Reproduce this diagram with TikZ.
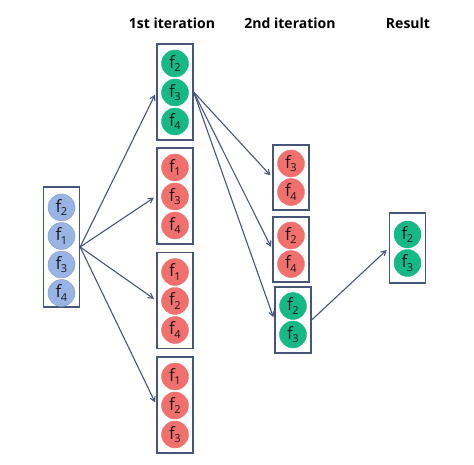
\documentclass[tikz,border=0pt]{standalone}
\usepackage{fontspec}
\setmainfont{Open Sans}
\usepackage{tikz}
\usetikzlibrary{arrows}
\definecolor{framecol}{RGB}{70,86,122}
\definecolor{bluefill}{RGB}{152,180,228}
\definecolor{greenfill}{RGB}{22,184,134}
\definecolor{redfill}{RGB}{241,112,110}
\newcommand{\fsub}[1]{f\kern-0.5pt\raisebox{-3.5pt}{\fontsize{11}{11}\selectfont #1}}
\tikzset{
box/.style={rectangle, draw=framecol, line width=1.3pt, minimum width=36pt, inner sep=0pt},
featb/.style={circle, fill=bluefill, draw=bluefill!85!black, line width=0.4pt, minimum size=27pt, inner sep=0pt, text=black!90, font=\fontsize{17}{17}\selectfont},
featg/.style={featb, fill=greenfill, draw=greenfill},
featr/.style={featb, fill=redfill, draw=redfill},
title/.style={font=\bfseries\fontsize{14}{16}\selectfont},
link/.style={->, >=angle 60, draw=framecol, line width=1.1pt, shorten >=3pt}
}

\begin{document}
\begin{tikzpicture}[x=1pt, y=-1pt]
\useasboundingbox (0,0) rectangle (474,465);

\node[title] (t1) at (172,23) {1st iteration};
\node[title] (t2) at (290,23) {2nd iteration};
\node[title] (t3) at (408,23) {Result};

% start set
\node[box, minimum height=120pt] (s) at (61.5,247) {};
\node[featb] (s1) at (61.5,207.5) {\fsub{2}};
\node[featb] (s2) at (61.5,236) {\fsub{1}};
\node[featb] (s3) at (61.5,264.5) {\fsub{3}};
\node[featb] (s4) at (61.5,293) {\fsub{4}};

% 1st iteration
\node[box, minimum height=96pt] (a) at (175,92) {};
\node[featg] (a1) at (175,63.5) {\fsub{2}};
\node[featg] (a2) at (175,92.5) {\fsub{3}};
\node[featg] (a3) at (175,121.5) {\fsub{4}};

\node[box, minimum height=96pt] (b) at (175,196) {};
\node[featr] (b1) at (175,167.5) {\fsub{1}};
\node[featr] (b2) at (175,196.5) {\fsub{3}};
\node[featr] (b3) at (175,225.5) {\fsub{4}};

\node[box, minimum height=96pt] (c) at (175,300.5) {};
\node[featr] (c1) at (175,272) {\fsub{1}};
\node[featr] (c2) at (175,301) {\fsub{2}};
\node[featr] (c3) at (175,330) {\fsub{4}};

\node[box, minimum height=96pt] (d) at (175,405) {};
\node[featr] (d1) at (175,376.5) {\fsub{1}};
\node[featr] (d2) at (175,405.5) {\fsub{2}};
\node[featr] (d3) at (175,434.5) {\fsub{3}};

% 2nd iteration
\node[box, minimum height=65pt] (e) at (291,177.5) {};
\node[featr] (e1) at (291,163.5) {\fsub{3}};
\node[featr] (e2) at (291,192) {\fsub{4}};

\node[box, minimum height=65pt] (f) at (291,249.5) {};
\node[featr] (f1) at (291,235.5) {\fsub{2}};
\node[featr] (f2) at (291,264) {\fsub{4}};

\node[box, minimum height=66pt] (g) at (293,320) {};
\node[featg] (g1) at (293,306) {\fsub{2}};
\node[featg] (g2) at (293,334.5) {\fsub{3}};

% result
\node[box, minimum height=70pt] (r) at (407.5,248) {};
\node[featg] (r1) at (407.5,234.5) {\fsub{2}};
\node[featg] (r2) at (407.5,263) {\fsub{3}};

\draw[link] (s.east) -- (a.west);
\draw[link] (s.east) -- (b.west);
\draw[link] (s.east) -- (c.west);
\draw[link] (s.east) -- (d.west);
\draw[link] (a.east) -- (e.west);
\draw[link] (a.east) -- (f.west);
\draw[link] (a.east) -- (g.west);
\draw[link] (g.east) -- (r.west);
\end{tikzpicture}
\end{document}
